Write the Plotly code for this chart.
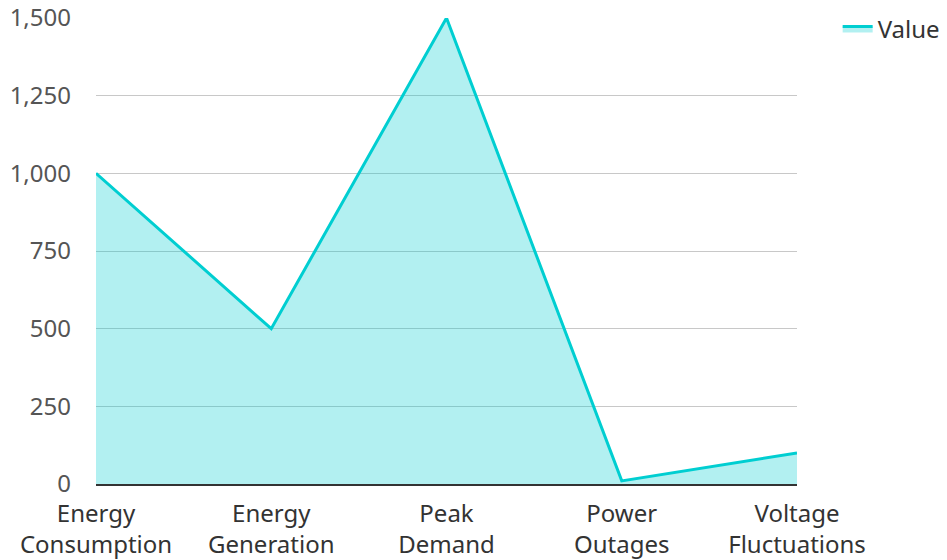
import plotly.graph_objects as go

categories = ["Energy<br>Consumption", "Energy<br>Generation", "Peak<br>Demand", "Power<br>Outages", "Voltage<br>Fluctuations"]
values = [1000, 500, 1500, 10, 100]
y_ticks = [0, 250, 500, 750, 1000, 1250, 1500]

fig = go.Figure()
fig.add_trace(go.Scatter(
    x=categories, y=values, mode="lines", name="Value",
    line=dict(color="#00CED1", width=3),
    fill="tozeroy", fillcolor="rgba(0,206,209,0.3)",
))

fig.update_layout(
    width=947, height=560,
    margin=dict(l=96, r=150, t=18, b=76, autoexpand=False),
    paper_bgcolor="white", plot_bgcolor="white",
    font=dict(family="Noto Sans", size=24, color="#333"),
    showlegend=True,
    legend=dict(x=1.058, y=1.025, xanchor="left", yanchor="top", font=dict(size=24, color="#333")),
    xaxis=dict(range=[0, 4], showgrid=False, showline=True, linecolor="#333", linewidth=2,
               ticks="", ticklabelstandoff=7, ticklabeloverflow="allow",
               tickfont=dict(size=24, color="#333")),
    yaxis=dict(range=[0, 1500], tickvals=y_ticks, tickformat=",", showgrid=True,
               gridcolor="#c8c8c8", gridwidth=1, zeroline=False, showline=False,
               ticks="", ticklabelstandoff=24, ticklabeloverflow="allow",
               tickfont=dict(size=24, color="#555")),
)

fig.write_html("out.html", config={"displayModeBar": False},
               post_script="document.body.style.margin='0';document.body.style.overflow='hidden';")
